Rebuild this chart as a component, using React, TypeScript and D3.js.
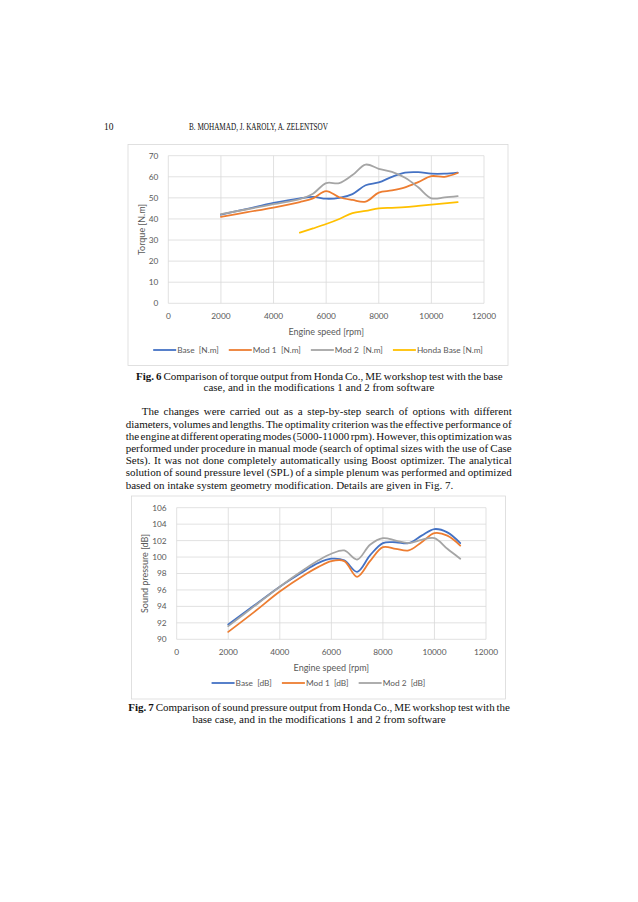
import React, { useEffect, useRef } from "react";
import * as d3 from "d3";

// engine speed samples [rpm]
const rpm = [2000, 3000, 4000, 5000, 5500, 6000, 6500, 7000, 7500, 8000, 8500, 9000, 9500, 10000, 10500, 11000];
const hondaRpm = [5000, 5500, 6000, 6500, 7000, 7500, 8000, 8500, 9000, 9500, 10000, 10500, 11000];

// Fig. 6 torque [N.m]
const torqueBase = [42, 44.8, 47.6, 49.8, 50.5, 49.6, 50, 51.8, 56, 57.3, 60, 62, 62.2, 61.5, 61.5, 62];
const torqueMod1 = [41, 43.2, 45.4, 48, 49.8, 53.2, 50.3, 49, 48.2, 52.5, 53.5, 55, 57.5, 60.3, 60, 61.8];
const torqueMod2 = [42.3, 44.6, 47, 49.4, 52, 57, 57, 60.8, 65.8, 63.8, 62.3, 59.5, 55, 49.8, 50.2, 50.8];
const torqueHonda = [33.5, 35.5, 37.6, 40, 42.8, 43.8, 45, 45.3, 45.6, 46.2, 46.8, 47.4, 48];

// Fig. 7 sound pressure [dB]
const splBase = [91.8, 94.1, 96.4, 98.4, 99.3, 99.8, 99.6, 98.2, 100.2, 101.7, 101.8, 101.7, 102.6, 103.4, 103.0, 101.7];
const splMod1 = [90.9, 93.3, 95.8, 97.9, 98.8, 99.5, 99.5, 97.6, 99.5, 101.2, 101.0, 100.8, 101.8, 102.9, 102.6, 101.4];
const splMod2 = [91.6, 94.0, 96.4, 98.6, 99.6, 100.4, 100.8, 99.7, 101.5, 102.3, 102.0, 101.7, 102.1, 102.3, 101.0, 99.8];

const rpmTicks = [0, 2000, 4000, 6000, 8000, 10000, 12000];
const torqueTicks = [0, 10, 20, 30, 40, 50, 60, 70];
const splTicks = [90, 92, 94, 96, 98, 100, 102, 104, 106];

const torqueNames = ["Base  [N.m]", "Mod 1  [N.m]", "Mod 2  [N.m]", "Honda Base [N.m]"];
const splNames = ["Base  [dB]", "Mod 1  [dB]", "Mod 2  [dB]"];

const paragraph = [
  "The changes were carried out as a step-by-step search of options with different",
  "diameters, volumes and lengths. The optimality criterion was the effective performance of",
  "the engine at different operating modes (5000-11000 rpm). However, this optimization was",
  "performed under procedure in manual mode (search of optimal sizes with the use of Case",
  "Sets). It was not done completely automatically using Boost optimizer. The analytical",
  "solution of sound pressure level (SPL) of a simple plenum was performed and optimized",
  "based on intake system geometry modification. Details are given in Fig. 7.",
];

const colors = ["#4472C4", "#ED7D31", "#A5A5A5", "#FFC000"];
const axisFont = "Lato, 'Open Sans', sans-serif";
const serif = "'Liberation Serif', 'Times New Roman', serif";

type Series = { xs: number[]; ys: number[]; color: string };

function justify(sel: d3.Selection<SVGTextElement, unknown, null, undefined>, width: number) {
  const node = sel.node()!;
  const natural = node.getComputedTextLength();
  const spaces = (node.textContent || "").split(" ").length - 1;
  if (spaces > 0) sel.style("word-spacing", `${(width - natural) / spaces}px`);
}

function drawChart(
  svg: d3.Selection<SVGSVGElement, unknown, null, undefined>,
  opt: {
    box: [number, number, number, number];
    plot: [number, number, number, number];
    yDomain: [number, number];
    yTicks: number[];
    yTitle: string;
    yTitleX: number;
    series: Series[];
    names: string[];
    legendY: number;
  }
) {
  const g = svg.append("g");
  const [bx, by, bw, bh] = opt.box;
  const [x0, x1, y0, y1] = opt.plot;
  g.append("rect").attr("x", bx).attr("y", by).attr("width", bw).attr("height", bh)
    .attr("fill", "#fff").attr("stroke", "#D9D9D9").attr("stroke-width", 0.8);

  const x = d3.scaleLinear().domain([0, 12000]).range([x0, x1]);
  const y = d3.scaleLinear().domain(opt.yDomain).range([y1, y0]);

  g.selectAll(".vg").data(rpmTicks).enter().append("line")
    .attr("x1", (d) => x(d)).attr("x2", (d) => x(d)).attr("y1", y0).attr("y2", y1)
    .attr("stroke", "#D9D9D9").attr("stroke-width", 0.8);
  g.selectAll(".hg").data(opt.yTicks).enter().append("line")
    .attr("x1", x0).attr("x2", x1).attr("y1", (d) => y(d)).attr("y2", (d) => y(d))
    .attr("stroke", "#D9D9D9").attr("stroke-width", 0.8);

  g.selectAll(".yt").data(opt.yTicks).enter().append("text")
    .attr("x", x0 - 10).attr("y", (d) => y(d)).attr("dy", "0.35em")
    .attr("text-anchor", "end").attr("font-family", axisFont).attr("font-size", 8.3)
    .attr("fill", "#595959").text((d) => d);
  g.selectAll(".xt").data(rpmTicks).enter().append("text")
    .attr("x", (d) => x(d)).attr("y", y1 + 16)
    .attr("text-anchor", "middle").attr("font-family", axisFont).attr("font-size", 8.3)
    .attr("fill", "#595959").text((d) => d);

  g.append("text").attr("x", (x0 + x1) / 2).attr("y", y1 + 32)
    .attr("text-anchor", "middle").attr("font-family", axisFont).attr("font-size", 9)
    .attr("fill", "#595959").text("Engine speed [rpm]");
  g.append("text")
    .attr("transform", `translate(${opt.yTitleX},${(y0 + y1) / 2}) rotate(-90)`)
    .attr("text-anchor", "middle").attr("font-family", axisFont).attr("font-size", 9)
    .attr("fill", "#595959").text(opt.yTitle);

  const line = d3.line<[number, number]>()
    .x((d) => x(d[0])).y((d) => y(d[1]))
    .curve(d3.curveCatmullRom.alpha(0.5));
  opt.series.forEach((s) => {
    g.append("path")
      .attr("d", line(s.xs.map((v, i) => [v, s.ys[i]] as [number, number])))
      .attr("fill", "none").attr("stroke", s.color).attr("stroke-width", 1.8)
      .attr("stroke-linecap", "round");
  });

  // legend, centred under the plot
  const items = opt.names.map((n, i) => {
    const it = g.append("g");
    it.append("line").attr("x1", 0).attr("x2", 23).attr("y1", 0).attr("y2", 0)
      .attr("stroke", colors[i]).attr("stroke-width", 1.8);
    const t = it.append("text").attr("x", 24).attr("dy", "0.35em")
      .attr("font-family", axisFont).attr("font-size", 8.3).attr("fill", "#595959")
      .style("white-space", "pre").text(n);
    return { it, w: 24 + t.node()!.getComputedTextLength() };
  });
  const gap = 10;
  const total = d3.sum(items, (d) => d.w) + gap * (items.length - 1);
  let cx = (bx + bw / 2) - total / 2;
  items.forEach((d) => {
    d.it.attr("transform", `translate(${cx},${opt.legendY})`);
    cx += d.w + gap;
  });
}

export default function App() {
  const ref = useRef<SVGSVGElement>(null);

  useEffect(() => {
    const svg = d3.select(ref.current!);
    svg.selectAll("*").remove();

    // running header
    svg.append("text").attr("x", 104).attr("y", 130).attr("font-family", serif)
      .attr("font-size", 9.5).attr("fill", "#111").text("10");
    const hdr = svg.append("text").attr("x", 258.5).attr("y", 130).attr("text-anchor", "middle")
      .attr("font-family", serif).attr("font-size", 9.5).attr("fill", "#111")
      .text("B. MOHAMAD, J. KAROLY, A. ZELENTSOV");
    hdr.attr("textLength", 139).attr("lengthAdjust", "spacingAndGlyphs");

    drawChart(svg, {
      box: [128, 144.5, 380, 221],
      plot: [168.3, 484, 155.7, 303.3],
      yDomain: [0, 70],
      yTicks: torqueTicks,
      yTitle: "Torque [N.m]",
      yTitleX: 144.5,
      series: [
        { xs: rpm, ys: torqueBase, color: colors[0] },
        { xs: rpm, ys: torqueMod1, color: colors[1] },
        { xs: rpm, ys: torqueMod2, color: colors[2] },
        { xs: hondaRpm, ys: torqueHonda, color: colors[3] },
      ],
      names: torqueNames,
      legendY: 350,
    });

    drawChart(svg, {
      box: [131.5, 496, 374, 203],
      plot: [176.7, 486, 507.7, 639.3],
      yDomain: [90, 106],
      yTicks: splTicks,
      yTitle: "Sound pressure [dB]",
      yTitleX: 147.5,
      series: [
        { xs: rpm, ys: splBase, color: colors[0] },
        { xs: rpm, ys: splMod1, color: colors[1] },
        { xs: rpm, ys: splMod2, color: colors[2] },
      ],
      names: splNames,
      legendY: 683,
    });

    const caption = (yy: number, num: string, l1: string, l2: string, left: number, right: number) => {
      const t = svg.append("text").attr("x", left).attr("y", yy)
        .attr("font-family", serif).attr("font-size", 11).attr("fill", "#111");
      t.append("tspan").attr("font-weight", "bold").text(num + " ");
      t.append("tspan").text(l1);
      justify(t, right - left);
      svg.append("text").attr("x", 319).attr("y", yy + 11.8).attr("text-anchor", "middle")
        .attr("font-family", serif).attr("font-size", 11).attr("fill", "#111").text(l2);
    };
    caption(379.5, "Fig. 6", "Comparison of torque output from Honda Co., ME workshop test with the base",
      "case, and in the modifications 1 and 2 from software", 136, 502.7);
    caption(711, "Fig. 7", "Comparison of sound pressure output from Honda Co., ME workshop test with the",
      "base case, and in the modifications 1 and 2 from software", 128.3, 510);

    paragraph.forEach((p, i) => {
      const left = i === 0 ? 141.7 : 125.7;
      const t = svg.append("text").attr("x", left).attr("y", 415.3 + i * 12.2)
        .attr("font-family", serif).attr("font-size", 11).attr("fill", "#111").text(p);
      if (i < paragraph.length - 1) justify(t, 511.7 - left);
    });
  }, []);

  return (
    <svg
      ref={ref}
      width={638}
      height={902}
      style={{ position: "absolute", left: 0, top: 0, background: "#fff" }}
    />
  );
}
